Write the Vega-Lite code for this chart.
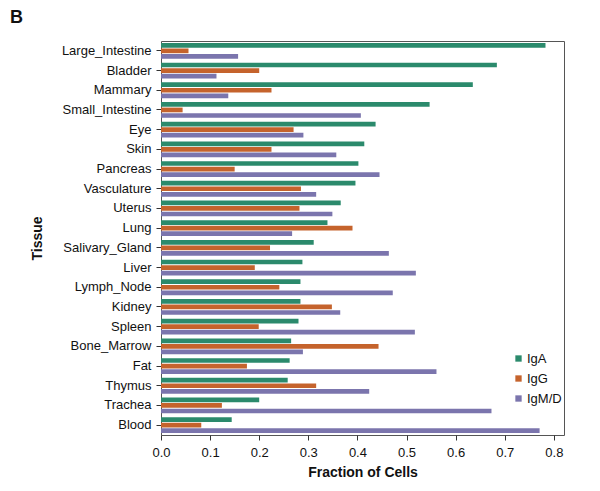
{
  "$schema": "https://vega.github.io/schema/vega-lite/v6.json",
  "autosize": {"type": "none"},
  "padding": {"left": 161, "top": 41, "right": 36, "bottom": 56},
  "width": 403,
  "height": 394,
  "title": {"text": "B", "anchor": "start", "frame": "group", "dx": -151, "offset": 14, "fontSize": 18, "font": "Liberation Sans", "fontWeight": "bold", "color": "#111"},
  "config": {
    "font": "Liberation Sans",
    "view": {"stroke": "#555", "strokeWidth": 1},
    "axis": {"grid": false, "domain": false, "tickColor": "#333", "tickSize": 5, "labelColor": "#111", "labelFontSize": 13, "titleFontSize": 14, "titleFontWeight": "bold", "titleColor": "#111"}
  },
  "data": {"values": [
    {"tissue": "Large_Intestine", "isotype": "IgA", "fraction": 0.783},
    {"tissue": "Large_Intestine", "isotype": "IgG", "fraction": 0.056},
    {"tissue": "Large_Intestine", "isotype": "IgM/D", "fraction": 0.157},
    {"tissue": "Bladder", "isotype": "IgA", "fraction": 0.684},
    {"tissue": "Bladder", "isotype": "IgG", "fraction": 0.2},
    {"tissue": "Bladder", "isotype": "IgM/D", "fraction": 0.113},
    {"tissue": "Mammary", "isotype": "IgA", "fraction": 0.635},
    {"tissue": "Mammary", "isotype": "IgG", "fraction": 0.225},
    {"tissue": "Mammary", "isotype": "IgM/D", "fraction": 0.137},
    {"tissue": "Small_Intestine", "isotype": "IgA", "fraction": 0.547},
    {"tissue": "Small_Intestine", "isotype": "IgG", "fraction": 0.044},
    {"tissue": "Small_Intestine", "isotype": "IgM/D", "fraction": 0.407},
    {"tissue": "Eye", "isotype": "IgA", "fraction": 0.437},
    {"tissue": "Eye", "isotype": "IgG", "fraction": 0.27},
    {"tissue": "Eye", "isotype": "IgM/D", "fraction": 0.29},
    {"tissue": "Skin", "isotype": "IgA", "fraction": 0.414},
    {"tissue": "Skin", "isotype": "IgG", "fraction": 0.225},
    {"tissue": "Skin", "isotype": "IgM/D", "fraction": 0.357},
    {"tissue": "Pancreas", "isotype": "IgA", "fraction": 0.402},
    {"tissue": "Pancreas", "isotype": "IgG", "fraction": 0.15},
    {"tissue": "Pancreas", "isotype": "IgM/D", "fraction": 0.445},
    {"tissue": "Vasculature", "isotype": "IgA", "fraction": 0.396},
    {"tissue": "Vasculature", "isotype": "IgG", "fraction": 0.285},
    {"tissue": "Vasculature", "isotype": "IgM/D", "fraction": 0.316},
    {"tissue": "Uterus", "isotype": "IgA", "fraction": 0.366},
    {"tissue": "Uterus", "isotype": "IgG", "fraction": 0.282},
    {"tissue": "Uterus", "isotype": "IgM/D", "fraction": 0.349},
    {"tissue": "Lung", "isotype": "IgA", "fraction": 0.339},
    {"tissue": "Lung", "isotype": "IgG", "fraction": 0.39},
    {"tissue": "Lung", "isotype": "IgM/D", "fraction": 0.267},
    {"tissue": "Salivary_Gland", "isotype": "IgA", "fraction": 0.311},
    {"tissue": "Salivary_Gland", "isotype": "IgG", "fraction": 0.222},
    {"tissue": "Salivary_Gland", "isotype": "IgM/D", "fraction": 0.464},
    {"tissue": "Liver", "isotype": "IgA", "fraction": 0.288},
    {"tissue": "Liver", "isotype": "IgG", "fraction": 0.191},
    {"tissue": "Liver", "isotype": "IgM/D", "fraction": 0.519},
    {"tissue": "Lymph_Node", "isotype": "IgA", "fraction": 0.284},
    {"tissue": "Lymph_Node", "isotype": "IgG", "fraction": 0.241},
    {"tissue": "Lymph_Node", "isotype": "IgM/D", "fraction": 0.472},
    {"tissue": "Kidney", "isotype": "IgA", "fraction": 0.284},
    {"tissue": "Kidney", "isotype": "IgG", "fraction": 0.348},
    {"tissue": "Kidney", "isotype": "IgM/D", "fraction": 0.365},
    {"tissue": "Spleen", "isotype": "IgA", "fraction": 0.28},
    {"tissue": "Spleen", "isotype": "IgG", "fraction": 0.199},
    {"tissue": "Spleen", "isotype": "IgM/D", "fraction": 0.517},
    {"tissue": "Bone_Marrow", "isotype": "IgA", "fraction": 0.265},
    {"tissue": "Bone_Marrow", "isotype": "IgG", "fraction": 0.443},
    {"tissue": "Bone_Marrow", "isotype": "IgM/D", "fraction": 0.289},
    {"tissue": "Fat", "isotype": "IgA", "fraction": 0.262},
    {"tissue": "Fat", "isotype": "IgG", "fraction": 0.175},
    {"tissue": "Fat", "isotype": "IgM/D", "fraction": 0.561},
    {"tissue": "Thymus", "isotype": "IgA", "fraction": 0.258},
    {"tissue": "Thymus", "isotype": "IgG", "fraction": 0.316},
    {"tissue": "Thymus", "isotype": "IgM/D", "fraction": 0.424},
    {"tissue": "Trachea", "isotype": "IgA", "fraction": 0.2},
    {"tissue": "Trachea", "isotype": "IgG", "fraction": 0.124},
    {"tissue": "Trachea", "isotype": "IgM/D", "fraction": 0.673},
    {"tissue": "Blood", "isotype": "IgA", "fraction": 0.144},
    {"tissue": "Blood", "isotype": "IgG", "fraction": 0.082},
    {"tissue": "Blood", "isotype": "IgM/D", "fraction": 0.771}
  ]},
  "mark": {"type": "bar", "stroke": null},
  "encoding": {
    "y": {"field": "tissue", "type": "nominal", "sort": null, "title": "Tissue",
      "scale": {"paddingInner": 0.2, "paddingOuter": 0.1},
      "axis": {"titlePadding": 17, "labelPadding": 5}},
    "yOffset": {"field": "isotype", "type": "nominal", "scale": {"paddingInner": 0.15}},
    "x": {"field": "fraction", "type": "quantitative", "title": "Fraction of Cells",
      "scale": {"domain": [0, 0.8207], "nice": false, "zero": true},
      "axis": {"values": [0, 0.1, 0.2, 0.3, 0.4, 0.5, 0.6, 0.7, 0.8], "format": ".1f", "labelFlush": false, "labelPadding": 6, "titlePadding": 6}},
    "color": {"field": "isotype", "type": "nominal",
      "scale": {"domain": ["IgA", "IgG", "IgM/D"], "range": ["#2b8a6c", "#c5632c", "#7b75ad"]},
      "legend": {"title": null, "orient": "none", "legendX": 351, "legendY": 311, "symbolType": "square", "symbolSize": 40, "labelFontSize": 13, "labelColor": "#111", "labelOffset": 2, "rowPadding": 6, "padding": 0, "symbolStrokeWidth": 0}}
  }
}
